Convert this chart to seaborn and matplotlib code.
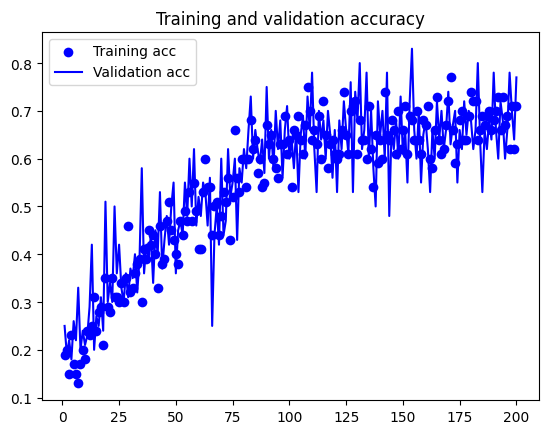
import matplotlib
matplotlib.use("Agg")
import matplotlib.pyplot as plt
import seaborn as sns

epochs = list(range(1, 201))

train_acc = [
    0.19, 0.20, 0.15, 0.23, 0.17, 0.15, 0.13, 0.17, 0.20, 0.18,
    0.24, 0.23, 0.25, 0.31, 0.24, 0.28, 0.29, 0.21, 0.35, 0.29,
    0.28, 0.35, 0.31, 0.31, 0.30, 0.34, 0.30, 0.35, 0.46, 0.32,
    0.33, 0.36, 0.38, 0.39, 0.30, 0.41, 0.39, 0.45, 0.42, 0.44,
    0.40, 0.33, 0.46, 0.38, 0.39, 0.47, 0.51, 0.45, 0.43, 0.40,
    0.38, 0.47, 0.44, 0.49, 0.47, 0.53, 0.47, 0.55, 0.49, 0.41,
    0.41, 0.53, 0.60, 0.54, 0.54, 0.44, 0.50, 0.51, 0.44, 0.48,
    0.53, 0.51, 0.56, 0.43, 0.52, 0.66, 0.56, 0.53, 0.60, 0.60,
    0.54, 0.60, 0.68, 0.62, 0.64, 0.57, 0.60, 0.54, 0.55, 0.67,
    0.63, 0.65, 0.60, 0.58, 0.56, 0.63, 0.63, 0.69, 0.61, 0.64,
    0.54, 0.66, 0.65, 0.69, 0.64, 0.61, 0.67, 0.75, 0.70, 0.64,
    0.66, 0.63, 0.69, 0.60, 0.72, 0.65, 0.58, 0.63, 0.64, 0.61,
    0.60, 0.61, 0.66, 0.74, 0.65, 0.61, 0.70, 0.71, 0.72, 0.61,
    0.68, 0.64, 0.64, 0.60, 0.71, 0.62, 0.54, 0.65, 0.59, 0.64,
    0.60, 0.74, 0.65, 0.64, 0.68, 0.66, 0.61, 0.70, 0.62, 0.66,
    0.71, 0.61, 0.69, 0.68, 0.64, 0.70, 0.64, 0.61, 0.68, 0.67,
    0.71, 0.60, 0.58, 0.66, 0.73, 0.64, 0.61, 0.62, 0.67, 0.72,
    0.77, 0.66, 0.59, 0.63, 0.68, 0.70, 0.64, 0.64, 0.69, 0.74,
    0.72, 0.72, 0.64, 0.66, 0.69, 0.67, 0.69, 0.70, 0.66, 0.68,
    0.70, 0.73, 0.66, 0.73, 0.67, 0.69, 0.62, 0.71, 0.62, 0.71,
]

val_acc = [
    0.25, 0.19, 0.22, 0.18, 0.26, 0.22, 0.33, 0.20, 0.24, 0.21,
    0.23, 0.29, 0.42, 0.20, 0.27, 0.25, 0.31, 0.24, 0.51, 0.30,
    0.34, 0.30, 0.50, 0.36, 0.42, 0.33, 0.30, 0.36, 0.31, 0.37,
    0.35, 0.40, 0.32, 0.39, 0.58, 0.36, 0.42, 0.39, 0.44, 0.34,
    0.45, 0.40, 0.53, 0.37, 0.43, 0.48, 0.42, 0.50, 0.55, 0.36,
    0.45, 0.47, 0.44, 0.55, 0.48, 0.60, 0.50, 0.62, 0.46, 0.52,
    0.48, 0.55, 0.53, 0.46, 0.56, 0.25, 0.44, 0.50, 0.42, 0.60,
    0.44, 0.47, 0.62, 0.52, 0.55, 0.60, 0.43, 0.58, 0.55, 0.62,
    0.58, 0.66, 0.73, 0.60, 0.66, 0.62, 0.59, 0.64, 0.57, 0.75,
    0.60, 0.66, 0.58, 0.70, 0.62, 0.68, 0.56, 0.66, 0.71, 0.60,
    0.64, 0.58, 0.66, 0.53, 0.65, 0.69, 0.60, 0.73, 0.66, 0.78,
    0.62, 0.53, 0.70, 0.64, 0.68, 0.60, 0.70, 0.65, 0.56, 0.66,
    0.53, 0.68, 0.62, 0.72, 0.66, 0.61, 0.76, 0.53, 0.74, 0.68,
    0.80, 0.62, 0.66, 0.78, 0.60, 0.70, 0.58, 0.50, 0.72, 0.65,
    0.70, 0.60, 0.78, 0.48, 0.66, 0.62, 0.68, 0.60, 0.73, 0.61,
    0.66, 0.55, 0.72, 0.83, 0.66, 0.60, 0.70, 0.55, 0.65, 0.68,
    0.62, 0.53, 0.66, 0.60, 0.72, 0.64, 0.70, 0.62, 0.66, 0.74,
    0.63, 0.67, 0.70, 0.55, 0.66, 0.62, 0.72, 0.65, 0.70, 0.68,
    0.62, 0.66, 0.80, 0.64, 0.53, 0.66, 0.62, 0.68, 0.64, 0.78,
    0.66, 0.60, 0.72, 0.68, 0.60, 0.66, 0.78, 0.70, 0.64, 0.77,
]

fig = plt.figure(figsize=(5.47, 4.35), dpi=100)
ax = fig.add_subplot(111)
fig.subplots_adjust(left=42 / 547, right=539 / 547, bottom=34 / 435, top=402 / 435)

sns.scatterplot(x=epochs, y=train_acc, color='blue', s=49, linewidth=0,
                label='Training acc', ax=ax, zorder=2)
sns.lineplot(x=epochs, y=val_acc, color='blue', linewidth=1.5,
             label='Validation acc', ax=ax, zorder=2)

ax.set_title('Training and validation accuracy')
ax.legend(loc='upper left')

plt.savefig('out.png', dpi=100)
